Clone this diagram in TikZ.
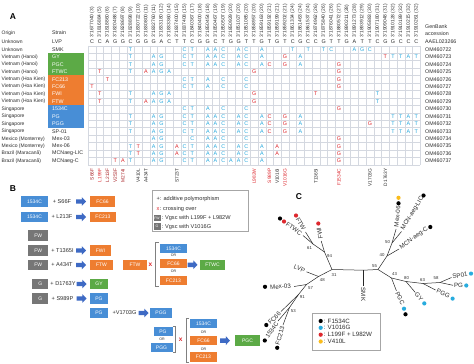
\documentclass[tikz,border=0pt]{standalone}
\usepackage{fontspec}
\setmainfont{Liberation Sans}
\definecolor{cy}{RGB}{38,168,222}
\definecolor{rd}{RGB}{222,40,46}
\definecolor{gnb}{RGB}{92,170,70}
\definecolor{orb}{RGB}{238,125,48}
\definecolor{blb}{RGB}{72,142,214}
\definecolor{gyb}{RGB}{118,118,118}
\definecolor{arb}{RGB}{62,106,196}
\definecolor{gridc}{RGB}{212,216,224}
\definecolor{ylw}{RGB}{250,188,28}
\definecolor{dk}{RGB}{45,45,45}
\definecolor{dotc}{RGB}{40,172,222}
\newcommand\seqrow[2]{\foreach \c/\l/\k in {#2}{\node[cell,text=\k] (t#1-\c) at ({92+7.72*\c},{42+7.44*#1}) {\l};}}
\begin{document}
\begin{tikzpicture}[x=1pt,y=-1pt,
  cell/.style={font=\fontsize{5.4}{6}\selectfont,inner sep=0pt},
  hdr/.style={font=\fontsize{4.9}{5}\selectfont,rotate=90,anchor=west,inner sep=0pt,text=dk},
  mut/.style={font=\fontsize{4.8}{5}\selectfont,rotate=90,anchor=east,inner sep=0pt},
  lab/.style={font=\fontsize{5.3}{6}\selectfont,anchor=west,inner sep=0pt,text=dk},
  olab/.style={font=\fontsize{5}{6}\selectfont,anchor=west,inner sep=0pt,text=dk},
  gridl/.style={draw=gridc,line width=0.3pt},
  bx/.style={rectangle,inner sep=0pt,minimum height=10.5pt,text=white,font=\fontsize{5}{6}\selectfont},
  sbx/.style={bx,minimum height=9.6pt,minimum width=27pt},
  pl/.style={font=\fontsize{5.6}{6}\selectfont,inner sep=0pt,text=dk},
  orl/.style={font=\fontsize{3.6}{4}\selectfont,inner sep=0pt,text=dk},
  crs/.style={font=\bfseries\fontsize{6.5}{7}\selectfont,inner sep=0pt,text=rd},
  brk/.style={draw=gray,line width=0.5pt},
  barrow/.pic={\fill[arb] (-5,-2.2) -- (0.8,-2.2) -- (0.8,-4.4) -- (5,0) -- (0.8,4.4) -- (0.8,2.2) -- (-5,2.2) -- cycle;},
  tree/.style={draw=black!85,line width=0.5pt},
  tl/.style={font=\fontsize{6.2}{7}\selectfont,inner sep=0pt,text=dk},
  bs/.style={font=\fontsize{4.3}{5}\selectfont,inner sep=0pt,text=dk},
  dot/.style={circle,inner sep=0pt,minimum size=4.2pt},
  plab/.style={font=\bfseries\fontsize{8.5}{9}\selectfont,inner sep=0pt}
]
\useasboundingbox (0,0) rectangle (474,364);
\fill[white] (0,0) rectangle (474,364);

% ---------------- Panel A ----------------
\node[plab] (pA) at (13,17) {A};
\node[olab] (hOrigin) at (1.5,33) {Origin};
\node[lab] (hStrain) at (52,33) {Strain};
\node[lab] (hGen1) at (425,26.5) {GenBank};
\node[lab] (hGen2) at (425,34) {accession};

% strain colour blocks
\fill[gnb] (48,53.16) rectangle (84,75.48);
\fill[orb] (48,75.48) rectangle (84,105.24);
\fill[blb] (48,105.24) rectangle (84,127.56);

% grid
\foreach \c in {0,...,43} \draw[gridl] ({92+7.72*(\c-0.5)},45.72) -- ({92+7.72*(\c-0.5)},164.76);
\foreach \r in {0,...,16} \draw[gridl] (88.14,{42+7.44*(\r+0.5)}) -- (420.1,{42+7.44*(\r+0.5)});

% left labels and accessions
\foreach \r/\o/\s/\a/\w in {0/Unknown/LVP/AAEL023266/dk,1/Unknown/SMK/OM460722/dk,
  2/Vietnam (Hanoi)/GY/OM460723/white,3/Vietnam (Hanoi)/PGC/OM460724/white,4/Vietnam (Hanoi)/FTWC/OM460725/white,
  5/Vietnam (Hoa Kien)/FC213/OM460726/white,6/Vietnam (Hoa Kien)/FC66/OM460727/white,7/Vietnam (Hoa Kien)/FWI/OM460728/white,8/Vietnam (Hoa Kien)/FTW/OM460729/white,
  9/Singapore/1534C/OM460730/white,10/Singapore/PG/OM460731/white,11/Singapore/PGG/OM460732/white,12/Singapore/SP-01/OM460733/dk,
  13/Mexico (Monterrey)/Mex-03/OM460734/dk,14/Mexico (Monterrey)/Mex-06/OM460735/dk,
  15/Brazil (Maracanã)/MCNaeg-LIC/OM460736/dk,16/Brazil (Maracanã)/MCNaeg-C/OM460737/dk}{
  \node[olab] (o\r) at (1.5,{42+7.44*\r}) {\o};
  \node[lab,text=\w] (s\r) at (52,{42+7.44*\r}) {\s};
  \node[lab] (g\r) at (425,{42+7.44*\r}) {\a};
}

% column headers
\foreach \c/\t in {0/3'1677040 (3),1/3'1816884 (5),2/3'1818860 (6),3/3'1820488 (7),4/3'1828697 (8),5/3'1828898 (9),
  6/3'1830722 (10),7/3'1830800 (11),8/3'1832760 (11),9/3'1833180 (12),10/3'1833360 (14),11/3'1837400 (15),
  12/3'1837408 (15),13/3'1840367 (17),14/3'1840400 (18),15/3'1850454 (18),16/3'1850467 (19),17/3'1850507 (19),
  18/3'1850929 (20),19/3'1851027 (20),20/3'1851085 (20),21/3'1858957 (20),22/3'1859163 (20),23/3'1859192 (21),
  24/3'1859199 (21),25/3'1859202 (21),26/3'1861334 (24),27/3'1861463 (24),28/3'1861537 (24),29/3'1874962 (26),
  30/3'1875840 (26),31/3'1876041 (26),32/3'1880572 (27),33/3'1890211 (28),34/3'1891273 (28),35/3'1893912 (29),
  36/3'1905883 (30),37/3'1907180 (31),38/3'1909048 (31),39/3'1910128 (32),40/3'1910189 (32),41/3'1910215 (32),
  42/3'1910261 (32)}{
  \node[hdr] (h\c) at ({92+7.72*\c},37.5) {\t};
}

% reference row
\seqrow{0}{0/C/dk,1/C/dk,2/A/dk,3/G/dk,4/G/dk,5/C/dk,6/G/dk,7/G/dk,8/G/dk,9/A/dk,10/C/dk,11/T/dk,12/T/dk,13/C/dk,14/G/dk,15/G/dk,16/C/dk,17/T/dk,18/G/dk,19/G/dk,20/T/dk,21/T/dk,22/G/dk,23/T/dk,24/G/dk,25/T/dk,26/C/dk,27/G/dk,28/C/dk,29/C/dk,30/G/dk,31/T/dk,32/T/dk,33/G/dk,34/A/dk,35/T/dk,36/T/dk,37/C/dk,38/G/dk,39/G/dk,40/C/dk,41/C/dk,42/C/dk}
% SMK
\seqrow{1}{5/T/cy,12/C/cy,13/T/cy,15/A/cy,16/A/cy,17/C/cy,19/A/cy,20/C/cy,22/A/cy,26/T/cy,28/T/cy,30/T/cy,31/C/cy,34/A/cy,35/G/cy,36/C/cy}
% GY
\seqrow{2}{5/T/cy,8/A/cy,9/G/cy,12/C/cy,13/T/cy,15/A/cy,16/A/cy,17/C/cy,19/A/cy,20/C/cy,22/A/cy,25/G/rd,27/A/cy,38/T/rd,39/T/cy,40/T/cy,41/A/cy,42/T/cy}
% PGC
\seqrow{3}{5/T/cy,8/A/cy,9/G/cy,12/C/cy,13/T/cy,15/A/cy,16/A/cy,17/C/cy,19/A/cy,20/C/cy,22/A/cy,23/C/rd,25/G/rd,27/A/cy,32/G/rd}
% FTWC
\seqrow{4}{1/T/rd,5/T/cy,7/A/rd,8/A/cy,9/G/cy,10/A/cy,21/G/rd,32/G/rd}
% FC213
\seqrow{5}{2/T/rd,12/C/cy,13/T/cy,15/A/cy,17/C/cy,20/C/cy,32/G/rd}
% FC66
\seqrow{6}{0/T/rd,12/C/cy,13/T/cy,15/A/cy,17/C/cy,20/C/cy,32/G/rd}
% FWI
\seqrow{7}{1/T/rd,5/T/cy,8/A/cy,9/G/cy,10/A/cy,21/G/rd,29/T/rd,37/T/cy}
% FTW
\seqrow{8}{1/T/rd,5/T/cy,7/A/rd,8/A/cy,9/G/cy,10/A/cy,21/G/rd,37/T/cy}
% 1534C
\seqrow{9}{12/C/cy,13/T/cy,15/A/cy,17/C/cy,20/C/cy,32/G/rd}
% PG
\seqrow{10}{5/T/cy,8/A/cy,9/G/cy,12/C/cy,13/T/cy,15/A/cy,16/A/cy,17/C/cy,19/A/cy,20/C/cy,22/A/cy,23/C/rd,25/G/rd,27/A/cy,39/T/cy,40/T/cy,41/A/cy,42/T/cy}
% PGG
\seqrow{11}{5/T/cy,8/A/cy,9/G/cy,12/C/cy,13/T/cy,15/A/cy,16/A/cy,17/C/cy,19/A/cy,20/C/cy,22/A/cy,23/C/rd,25/G/rd,27/A/cy,36/G/rd,39/T/cy,40/T/cy,41/A/cy,42/T/cy}
% SP-01
\seqrow{12}{5/T/cy,8/A/cy,9/G/cy,12/C/cy,13/T/cy,15/A/cy,16/A/cy,17/C/cy,19/A/cy,20/C/cy,22/A/cy,23/C/rd,25/G/rd,27/A/cy,39/T/cy,40/T/cy,41/A/cy,42/T/cy}
% Mex-03
\seqrow{13}{8/A/cy,9/G/cy,13/C/cy,15/A/cy,16/A/cy,17/C/cy,20/C/cy,32/G/rd}
% Mex-06
\seqrow{14}{5/T/cy,6/T/rd,8/A/cy,9/G/cy,11/A/rd,12/C/cy,13/T/cy,15/A/cy,16/A/cy,17/C/cy,19/A/cy,20/C/cy,22/A/cy,24/A/rd,32/G/rd}
% MCNaeg-LIC
\seqrow{15}{5/T/cy,6/T/rd,8/A/cy,9/G/cy,11/A/rd,12/C/cy,13/T/cy,15/A/cy,16/A/cy,17/C/cy,19/A/cy,20/C/cy,22/A/cy,24/A/rd,32/G/rd}
% MCNaeg-C
\seqrow{16}{3/T/rd,4/A/rd,5/T/cy,8/A/cy,9/G/cy,12/C/cy,13/T/cy,15/A/cy,16/A/cy,17/C/cy,18/A/cy,19/A/cy,20/C/cy,22/A/cy,32/G/rd}

% mutation labels
\foreach \c/\t/\k in {0/S66F/rd!75!black,1/L199F/rd,2/L213F/rd!75!black,3/V253F/rd!75!black,4/M274I/rd!75!black,
  6/V410L/dk,7/A434T/dk,11/S723T/dk,21/L982W/rd,23/S989P/rd,24/V1016I/dk,25/V1016G/rd,29/T1365I/dk,
  32/F1534C/rd,36/V1703G/dk,38/D1763Y/dk}{
  \node[mut,text=\k] (m\c) at ({92+7.72*\c},168.5) {\t};
}

% ---------------- Panel B ----------------
\node[plab] (pB) at (13,188.3) {B};
% row 1
\node[bx,fill=blb,minimum width=27.5pt] (b1l) at (34.5,201.5) {1534C};
\node[pl] (b1p) at (62,201.5) {+ S66F};
\pic at (81,201.5) {barrow};
\node[bx,fill=orb,minimum width=25pt] (b1r) at (102.5,201.5) {FC66};
% row 2
\node[bx,fill=blb,minimum width=27.5pt] (b2l) at (34.5,217) {1534C};
\node[pl] (b2p) at (62,217) {+ L213F};
\pic at (81,217) {barrow};
\node[bx,fill=orb,minimum width=26pt] (b2r) at (103,217) {FC213};
% row 3
\node[bx,fill=gyb,minimum width=20pt] (b3l) at (38.3,235.5) {FW};
% row 4
\node[bx,fill=gyb,minimum width=20pt] (b4l) at (38.3,250.5) {FW};
\node[pl] (b4p) at (62.5,250.5) {+ T1365I};
\pic at (81,250.5) {barrow};
\node[bx,fill=orb,minimum width=21pt] (b4r) at (100.5,250.5) {FWI};
% row 5
\node[bx,fill=gyb,minimum width=20pt] (b5l) at (38.3,265) {FW};
\node[pl] (b5p) at (62,265) {+ A434T};
\pic at (81,265) {barrow};
\node[bx,fill=orb,minimum width=23pt] (b5r) at (101.5,265) {FTW};
\node[bx,fill=orb,minimum width=24pt] (b5x) at (135,265) {FTW};
\node[crs] (x1) at (150.5,264.5) {x};
\draw[brk] (158.5,242.5) -- (155.5,242.5) -- (155.5,286.5) -- (158.5,286.5);
\node[sbx,fill=blb] (g1a) at (173.5,248.3) {1534C};
\node[orl] (or1) at (173.5,255.6) {OR};
\node[sbx,fill=orb] (g1b) at (173.5,263.3) {FC66};
\node[orl] (or2) at (173.5,271.4) {OR};
\node[sbx,fill=orb] (g1c) at (173.5,280.3) {FC213};
\pic at (192.5,264.8) {barrow};
\node[bx,fill=gnb,minimum width=25pt] (g1r) at (212.5,264.8) {FTWC};
% row 6
\node[bx,fill=gyb,minimum width=16pt] (b6l) at (40.3,284) {G};
\node[pl] (b6p) at (63,284) {+ D1763Y};
\pic at (81.5,284) {barrow};
\node[bx,fill=gnb,minimum width=18pt] (b6r) at (99,284) {GY};
% row 7
\node[bx,fill=gyb,minimum width=16pt] (b7l) at (40.3,298.5) {G};
\node[pl] (b7p) at (62.5,298.5) {+ S989P};
\pic at (81.5,298.5) {barrow};
\node[bx,fill=blb,minimum width=18pt] (b7r) at (99,298.5) {PG};
% row 8
\node[bx,fill=blb,minimum width=18pt] (b8l) at (99,313) {PG};
\node[pl] (b8p) at (124.5,313) {+V1703G};
\pic at (143.5,313) {barrow};
\node[bx,fill=blb,minimum width=22pt] (b8r) at (161,313) {PGG};
% bottom crossing group
\node[sbx,fill=blb,minimum width=19pt] (g2a) at (163,331.5) {PG};
\node[orl] (or3) at (162,338.8) {OR};
\node[sbx,fill=blb,minimum width=22pt] (g2b) at (161.5,347.3) {PGG};
\draw[brk] (172.5,326) -- (175.5,326) -- (175.5,352.5) -- (172.5,352.5);
\node[crs] (x2) at (180.8,339.3) {x};
\draw[brk] (189,318) -- (186,318) -- (186,362.5) -- (189,362.5);
\node[sbx,fill=blb] (g3a) at (203.5,323.3) {1534C};
\node[orl] (or4) at (203.5,331.8) {OR};
\node[sbx,fill=orb] (g3b) at (203.5,340.6) {FC66};
\node[orl] (or5) at (203.5,348.9) {OR};
\node[sbx,fill=orb] (g3c) at (203.5,357.2) {FC213};
\pic at (225,340.6) {barrow};
\node[bx,fill=gnb,minimum width=25pt] (g3r) at (247.5,340.6) {PGC};
% legend B
\draw[draw=gray!70,line width=0.5pt] (152,190) rectangle (248,231);
\node[pl,anchor=west] (lg1) at (156.5,199.5) {+: additive polymorphism};
\node[pl,anchor=west] (lg2) at (156.5,208.7) {\textcolor{rd}{x}: crossing over};
\node[rectangle,fill=gyb,inner sep=0pt,minimum width=7pt,minimum height=6.5pt,text=white,font=\fontsize{3.4}{4}\selectfont] (lg3b) at (157,218) {FW};
\node[pl,anchor=west] (lg3) at (161.3,218) {: Vgsc with L199F + L982W};
\node[rectangle,fill=gyb,inner sep=0pt,minimum width=7pt,minimum height=6.5pt,text=white,font=\fontsize{3.6}{4}\selectfont] (lg4b) at (157,226.6) {G};
\node[pl,anchor=west] (lg4) at (161.3,226.6) {: Vgsc with V1016G};

% ---------------- Panel C ----------------
\node[plab] (pC) at (299,197) {C};
\coordinate (n31) at (332,269.5);
\coordinate (nS) at (363.3,270.2);
\coordinate (n55) at (378,269.5);
\coordinate (n94) at (324.5,252);
\coordinate (n61) at (313,244);
\coordinate (n48) at (318.5,276.5);
\coordinate (n57) at (306.5,284.5);
\coordinate (n91) at (298.5,294.5);
\coordinate (n53) at (289.5,307.5);
\coordinate (n40) at (387,256);
\coordinate (n50) at (392,243);
\coordinate (n43) at (391.5,278);
\coordinate (n80) at (406,281.5);
\coordinate (n63) at (423,283.5);
\coordinate (n58) at (440,282.5);
\coordinate (eSMK) at (363.3,286);
\coordinate (eFWI) at (321.2,241);
\coordinate (eFTW) at (305.5,232);
\coordinate (eFTWC) at (303,235.5);
\coordinate (eLVP) at (306.5,271.8);
\coordinate (eMex3) at (294,286.5);
\coordinate (eFC66) at (281,311.5);
\coordinate (e1534) at (278,321);
\coordinate (eFC213) at (283,325);
\coordinate (eMex6) at (396.1,229);
\coordinate (eLIC) at (401.5,231.5);
\coordinate (eMC) at (399,249);
\coordinate (ePGC) at (396.4,290.8);
\coordinate (eGY) at (415.3,292.5);
\coordinate (ePGG) at (435.5,290);
\coordinate (eSP) at (451.5,277.5);
\coordinate (ePG) at (453,285.3);

\draw[tree] (n31) -- (nS) -- (n55);
\draw[tree] (nS) -- (eSMK);
\draw[tree] (n31) -- (n94) -- (eFWI);
\draw[tree] (n94) -- (n61) -- (eFTW);
\draw[tree] (n61) -- (eFTWC);
\draw[tree] (n31) -- (n48) -- (eLVP);
\draw[tree] (n48) -- (n57) -- (eMex3);
\draw[tree] (n57) -- (n91) -- (eFC66);
\draw[tree] (n91) -- (n53) -- (e1534);
\draw[tree] (n53) -- (eFC213);
\draw[tree] (n55) -- (n40) -- (n50) -- (eMex6);
\draw[tree] (n50) -- (eLIC);
\draw[tree] (n40) -- (eMC);
\draw[tree] (n55) -- (n43) -- (ePGC);
\draw[tree] (n43) -- (n80) -- (eGY);
\draw[tree] (n80) -- (n63) -- (ePGG);
\draw[tree] (n63) -- (n58) -- (eSP);
\draw[tree] (n58) -- (ePG);

% leaf labels
\node[tl,rotate=-90] (lSMK) at (363.3,294.5) {SMK};
\node[tl,rotate=100] (lFWI) at (319.8,233.5) {FWI};
\node[tl,rotate=-60] (lFTW) at (300.8,224) {FTW};
\node[tl,rotate=-35] (lFTWC) at (294,229) {FTWC};
\node[tl,rotate=-22] (lLVP) at (299.5,269) {LVP};
\node[tl,rotate=5] (lMex3) at (280.5,286.7) {Mex-03};
\node[tl,rotate=45] (lFC66) at (274.5,318) {FC66};
\node[tl,rotate=55] (l1534) at (272,330) {1534C};
\node[tl,rotate=74] (lFC213) at (280,335.5) {FC213};
\node[tl,rotate=84] (lMex6) at (397.4,216.5) {Mex-06};
\node[tl,rotate=58.5] (lLIC) at (412.5,213.3) {MCN-aeg-LIC};
\node[tl,rotate=35] (lMC) at (414,238.3) {MCN-aeg-C};
\node[tl,rotate=-64] (lPGC) at (400,298.3) {PGC};
\node[tl,rotate=-50] (lGY) at (419,297) {GY};
\node[tl,rotate=-22] (lPGG) at (443.3,293.3) {PGG};
\node[tl,rotate=10] (lSP) at (460,275.5) {SP01};
\node[tl] (lPG) at (458.5,285.5) {PG};

% bootstrap values
\node[bs] (v31) at (334,275) {31};
\node[bs] (v55) at (374.5,266.3) {55};
\node[bs] (v94) at (329.5,256.5) {94};
\node[bs] (v61) at (309.5,248.5) {61};
\node[bs] (v48) at (322.3,280.2) {48};
\node[bs] (v57) at (310.5,288) {57};
\node[bs] (v91) at (302.3,297.2) {91};
\node[bs] (v53) at (293.3,310.6) {53};
\node[bs] (v40) at (382,255.5) {40};
\node[bs] (v50) at (387.5,242) {50};
\node[bs] (v43) at (394.5,274.5) {43};
\node[bs] (v80) at (406.5,278) {80};
\node[bs] (v63) at (422.5,280.3) {63};
\node[bs] (v58) at (436,278) {58};

% dots
\node[dot,fill=rd] (dFWI) at (318.3,223.5) {};
\node[dot,fill=rd] (dFTW) at (296,215.5) {};
\node[dot,fill=rd] (dFTWCr) at (284,221.5) {};
\node[dot,fill=black] (dFTWCb) at (280,218.5) {};
\node[dot,fill=black] (dMex3) at (265,286.8) {};
\node[dot,fill=black] (dFC66) at (266.3,325) {};
\node[dot,fill=black] (d1534) at (264.8,340.5) {};
\node[dot,fill=black] (dFC213) at (277.2,347.8) {};
\node[dot,fill=black] (dMex6b) at (398.5,203.3) {};
\node[dot,fill=ylw] (dMex6y) at (398.5,197.8) {};
\node[dot,fill=black] (dLIC) at (423.5,195.5) {};
\node[dot,fill=black] (dMC) at (430.3,227) {};
\node[dot,fill=dotc] (dPGCc) at (404,308.7) {};
\node[dot,fill=black] (dPGCb) at (405.5,314.3) {};
\node[dot,fill=dotc] (dGY) at (424.3,303.4) {};
\node[dot,fill=dotc] (dPGG) at (452.6,298.6) {};
\node[dot,fill=dotc] (dSP) at (471,273.6) {};
\node[dot,fill=dotc] (dPG) at (466.3,285.5) {};

% legend C
\draw[draw=gray!70,line width=0.5pt] (312.5,313.5) rectangle (380,350);
\node[dot,fill=black] (lc1) at (320.7,321) {};
\node[tl,anchor=west] (lt1) at (323.5,321) {: F1534C};
\node[dot,fill=dotc] (lc2) at (320.7,327.8) {};
\node[tl,anchor=west] (lt2) at (323.5,327.8) {: V1016G};
\node[dot,fill=rd] (lc3) at (320.7,334.7) {};
\node[tl,anchor=west] (lt3) at (323.5,334.7) {: L199F + L982W};
\node[dot,fill=ylw] (lc4) at (320.7,341.5) {};
\node[tl,anchor=west] (lt4) at (323.5,341.5) {: V410L};
\end{tikzpicture}
\end{document}
